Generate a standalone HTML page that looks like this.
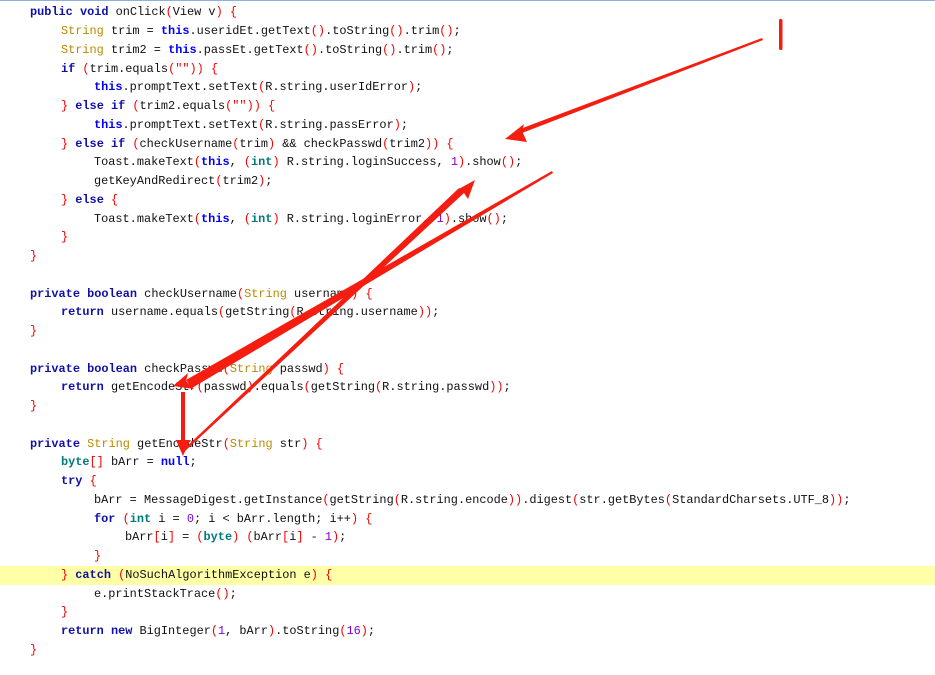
<!DOCTYPE html>
<html><head><meta charset="utf-8"><style>
html,body{margin:0;padding:0;width:935px;height:675px;background:#fff;overflow:hidden;position:relative;font-family:"Liberation Mono",monospace;font-size:11.9px;color:#101010}
.top{position:absolute;left:0;top:0;width:935px;height:1px;background:#8fb0d8}
.hl{position:absolute;left:0;top:566px;width:935px;height:19px;background:#ffffa8}
.l{position:absolute;white-space:pre;height:19px;line-height:19px}
.k{color:#1010a8;font-weight:bold}
.b{color:#0000ff;font-weight:bold}
.t{color:#b88a00}
.p{color:#f00000}
.n{color:#8000e0}
.i{color:#007a7a;font-weight:bold}
svg{position:absolute;left:0;top:0}
</style></head><body>
<div class="top"></div>
<div class="hl"></div>
<div class="l" style="left:30px;top:3px"><span class="k">public void</span> onClick<span class="p">(</span>View v<span class="p">)</span> <span class="p">{</span></div>
<div class="l" style="left:61px;top:22px"><span class="t">String</span> trim = <span class="b">this</span>.useridEt.getText<span class="p">()</span>.toString<span class="p">()</span>.trim<span class="p">()</span>;</div>
<div class="l" style="left:61px;top:41px"><span class="t">String</span> trim2 = <span class="b">this</span>.passEt.getText<span class="p">()</span>.toString<span class="p">()</span>.trim<span class="p">()</span>;</div>
<div class="l" style="left:61px;top:60px"><span class="k">if</span> <span class="p">(</span>trim.equals<span class="p">(</span><span class="p">""</span><span class="p">))</span> <span class="p">{</span></div>
<div class="l" style="left:94px;top:78px"><span class="b">this</span>.promptText.setText<span class="p">(</span>R.string.userIdError<span class="p">)</span>;</div>
<div class="l" style="left:61px;top:97px"><span class="p">}</span> <span class="k">else if</span> <span class="p">(</span>trim2.equals<span class="p">(</span><span class="p">""</span><span class="p">))</span> <span class="p">{</span></div>
<div class="l" style="left:94px;top:116px"><span class="b">this</span>.promptText.setText<span class="p">(</span>R.string.passError<span class="p">)</span>;</div>
<div class="l" style="left:61px;top:135px"><span class="p">}</span> <span class="k">else if</span> <span class="p">(</span>checkUsername<span class="p">(</span>trim<span class="p">)</span> &amp;&amp; checkPasswd<span class="p">(</span>trim2<span class="p">))</span> <span class="p">{</span></div>
<div class="l" style="left:94px;top:153px">Toast.makeText<span class="p">(</span><span class="b">this</span>, <span class="p">(</span><span class="i">int</span><span class="p">)</span> R.string.loginSuccess, <span class="n">1</span><span class="p">)</span>.show<span class="p">()</span>;</div>
<div class="l" style="left:94px;top:172px">getKeyAndRedirect<span class="p">(</span>trim2<span class="p">)</span>;</div>
<div class="l" style="left:61px;top:191px"><span class="p">}</span> <span class="k">else</span> <span class="p">{</span></div>
<div class="l" style="left:94px;top:210px">Toast.makeText<span class="p">(</span><span class="b">this</span>, <span class="p">(</span><span class="i">int</span><span class="p">)</span> R.string.loginError, <span class="n">1</span><span class="p">)</span>.show<span class="p">()</span>;</div>
<div class="l" style="left:61px;top:228px"><span class="p">}</span></div>
<div class="l" style="left:30px;top:247px"><span class="p">}</span></div>
<div class="l" style="left:30px;top:285px"><span class="k">private boolean</span> checkUsername<span class="p">(</span><span class="t">String</span> username<span class="p">)</span> <span class="p">{</span></div>
<div class="l" style="left:61px;top:303px"><span class="k">return</span> username.equals<span class="p">(</span>getString<span class="p">(</span>R.string.username<span class="p">))</span>;</div>
<div class="l" style="left:30px;top:322px"><span class="p">}</span></div>
<div class="l" style="left:30px;top:360px"><span class="k">private boolean</span> checkPasswd<span class="p">(</span><span class="t">String</span> passwd<span class="p">)</span> <span class="p">{</span></div>
<div class="l" style="left:61px;top:378px"><span class="k">return</span> getEncodeStr<span class="p">(</span>passwd<span class="p">)</span>.equals<span class="p">(</span>getString<span class="p">(</span>R.string.passwd<span class="p">))</span>;</div>
<div class="l" style="left:30px;top:397px"><span class="p">}</span></div>
<div class="l" style="left:30px;top:435px"><span class="k">private</span> <span class="t">String</span> getEncodeStr<span class="p">(</span><span class="t">String</span> str<span class="p">)</span> <span class="p">{</span></div>
<div class="l" style="left:61px;top:453px"><span class="i">byte</span><span class="p">[]</span> bArr = <span class="b">null</span>;</div>
<div class="l" style="left:61px;top:472px"><span class="k">try</span> <span class="p">{</span></div>
<div class="l" style="left:94px;top:491px">bArr = MessageDigest.getInstance<span class="p">(</span>getString<span class="p">(</span>R.string.encode<span class="p">))</span>.digest<span class="p">(</span>str.getBytes<span class="p">(</span>StandardCharsets.UTF_8<span class="p">))</span>;</div>
<div class="l" style="left:94px;top:510px"><span class="k">for</span> <span class="p">(</span><span class="i">int</span> i = <span class="n">0</span>; i &lt; bArr.length; i++<span class="p">)</span> <span class="p">{</span></div>
<div class="l" style="left:125px;top:528px">bArr<span class="p">[</span>i<span class="p">]</span> = <span class="p">(</span><span class="i">byte</span><span class="p">)</span> <span class="p">(</span>bArr<span class="p">[</span>i<span class="p">]</span> - <span class="n">1</span><span class="p">)</span>;</div>
<div class="l" style="left:94px;top:547px"><span class="p">}</span></div>
<div class="l" style="left:61px;top:566px"><span class="p">}</span> <span class="k">catch</span> <span class="p">(</span>NoSuchAlgorithmException e<span class="p">)</span> <span class="p">{</span></div>
<div class="l" style="left:94px;top:585px">e.printStackTrace<span class="p">()</span>;</div>
<div class="l" style="left:61px;top:603px"><span class="p">}</span></div>
<div class="l" style="left:61px;top:622px"><span class="k">return new</span> BigInteger<span class="p">(</span><span class="n">1</span>, bArr<span class="p">)</span>.toString<span class="p">(</span><span class="n">16</span><span class="p">)</span>;</div>
<div class="l" style="left:30px;top:641px"><span class="p">}</span></div>
<svg width="935" height="675" viewBox="0 0 935 675">
<g fill="#f51c10" stroke="none">
<rect x="779" y="19" width="3.5" height="31" rx="1.5"/>
<polygon points="762,38 763,40 522,133 520,129"/>
<polygon points="505,139 524,124 522,131 527,142 "/>
<polygon points="552,171 553,173 192,388 186,380"/>
<polygon points="173,386 188,373 186,381 194,389"/>
<polygon points="183,450 184,452 464,193 459,188"/>
<polygon points="475,180 468,199 464,193 457,190"/>
<rect x="181" y="392" width="4" height="50"/>
<polygon points="176,440 190,440 183,456"/>
</g>
</svg>
</body></html>
